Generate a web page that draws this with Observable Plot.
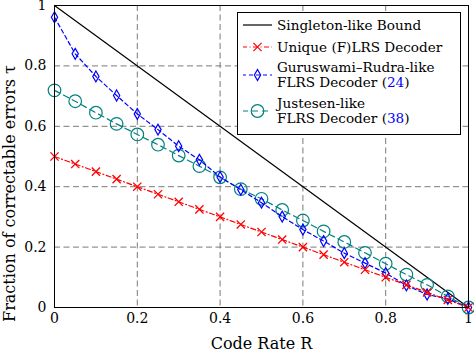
<!DOCTYPE html>
<html>
<head>
<meta charset="utf-8">
<script src="https://cdn.jsdelivr.net/npm/d3@7"></script>
<script src="https://cdn.jsdelivr.net/npm/@observablehq/plot@0.6"></script>
<style>
  html, body { margin: 0; padding: 0; background: #fff; }
  #wrap { position: relative; width: 474px; height: 350px; overflow: hidden; }
  #legend { position: absolute; left: 0; top: 0; pointer-events: none; }
</style>
</head>
<body>
<div id="wrap"></div>
<script>
// ---- data ----
const rates = [0, 0.05, 0.1, 0.15, 0.2, 0.25, 0.3, 0.35, 0.4, 0.45, 0.5, 0.55, 0.6, 0.65, 0.7, 0.75, 0.8, 0.85, 0.9, 0.95, 1];
const singletonRates = [0, 1];
const singletonTau = [1, 0];
const uniqueTau = [0.5, 0.475, 0.45, 0.425, 0.4, 0.375, 0.35, 0.325, 0.3, 0.275, 0.25, 0.225, 0.2, 0.175, 0.15, 0.125, 0.1, 0.075, 0.05, 0.025, 0];
const grTau = [0.961, 0.84, 0.765, 0.702, 0.641, 0.589, 0.534, 0.489, 0.432, 0.39, 0.347, 0.301, 0.258, 0.22, 0.18, 0.147, 0.114, 0.073, 0.043, 0.029, 0];
const justesenTau = [0.719, 0.683, 0.645, 0.608, 0.573, 0.539, 0.503, 0.468, 0.431, 0.392, 0.36, 0.323, 0.288, 0.252, 0.217, 0.181, 0.145, 0.109, 0.075, 0.037, 0];
const xTicks = [0, 0.2, 0.4, 0.6, 0.8, 1];
const xTickLabels = ["0", "0.2", "0.4", "0.6", "0.8", "1"];
const yTicks = [0, 0.2, 0.4, 0.6, 0.8, 1];
const yTickLabels = ["0", "0.2", "0.4", "0.6", "0.8", "1"];
const gridValues = [0.2, 0.4, 0.6, 0.8];
const xLabel = "Code Rate R";
const yLabel = "Fraction of correctable errors τ";
const legendLines = [
  ["Singleton-like Bound"],
  ["Unique (F)LRS Decoder"],
  ["Guruswami–Rudra-like", "FLRS Decoder (", "24", ")"],
  ["Justesen-like", "FLRS Decoder (", "38", ")"]
];

// ---- tables ----
const single = singletonRates.map((r, i) => ({r, t: singletonTau[i]}));
const uniq = rates.map((r, i) => ({r, t: uniqueTau[i]}));
const gr = rates.map((r, i) => ({r, t: grTau[i]}));
const jus = rates.map((r, i) => ({r, t: justesenTau[i]}));

const RED = "#ff0000", BLUE = "#0000ff", TEAL = "#008080";
const serif = "DejaVu Serif";

const chart = Plot.plot({
  width: 474,
  height: 350,
  marginLeft: 54,
  marginRight: 6,
  marginTop: 5,
  marginBottom: 43,
  style: {fontFamily: serif, fontSize: "14px", color: "#000", background: "#fff"},
  x: {domain: [0, 1], ticks: xTicks, tickFormat: d => xTickLabels[xTicks.indexOf(d)], tickSize: 0, tickPadding: 6, label: null},
  y: {domain: [0, 1], ticks: yTicks, tickFormat: d => yTickLabels[yTicks.indexOf(d)], tickSize: 0, tickPadding: 8, label: null},
  marks: [
    Plot.ruleX(gridValues, {stroke: "#7a7a7a", strokeWidth: 1, strokeDasharray: "6,3.5"}),
    Plot.ruleY(gridValues, {stroke: "#7a7a7a", strokeWidth: 1, strokeDasharray: "6,3.5"}),
    Plot.line(single, {x: "r", y: "t", stroke: "#000", strokeWidth: 1.2}),
    Plot.line(jus, {x: "r", y: "t", stroke: TEAL, strokeWidth: 1.2, strokeDasharray: "6,4"}),
    Plot.dot(jus, {x: "r", y: "t", r: 6.3, stroke: TEAL, strokeWidth: 1.2, fill: "none"}),
    Plot.line(gr, {x: "r", y: "t", stroke: BLUE, strokeWidth: 1.2, strokeDasharray: "4,3"}),
    Plot.dot(gr, {x: "r", y: "t", r: 3.3, symbol: "diamond", stroke: BLUE, strokeWidth: 1.2, fill: "none"}),
    Plot.line(uniq, {x: "r", y: "t", stroke: RED, strokeWidth: 1.2, strokeDasharray: "5,2.5,1,2.5"}),
    Plot.dot(uniq, {x: "r", y: "t", r: 3.8, symbol: "times", stroke: RED, strokeWidth: 1.3}),
    Plot.frame({stroke: "#000", strokeWidth: 1}),
    Plot.text([xLabel], {frameAnchor: "bottom", textAnchor: "middle", lineAnchor: "top", dy: 30, fontSize: 16, fill: "#000"}),
    Plot.text([yLabel], {frameAnchor: "left", textAnchor: "middle", lineAnchor: "middle", dx: -45, dy: 37, rotate: -90, fontSize: 16, fill: "#000"})
  ]
});

const wrap = document.getElementById("wrap");
wrap.appendChild(chart);

// ---- legend overlay ----
const svg = d3.select(wrap).append("svg")
  .attr("id", "legend").attr("width", 474).attr("height", 350)
  .style("font-family", serif).style("font-size", "13.6px");
const lx = 237, ly = 12, lw = 223, lh = 122;
svg.append("rect").attr("x", lx + 0.5).attr("y", ly + 0.5).attr("width", lw).attr("height", lh)
  .attr("fill", "#fff").attr("stroke", "#000").attr("stroke-width", 1);

const sym = (type, r) => d3.symbol(type, r * r * Math.PI)();
const entries = [
  {cy: 25, color: "#000", dash: null, marker: null, lines: [30]},
  {cy: 47, color: RED, dash: "5,2.5,1,2.5", marker: {type: d3.symbolTimes, r: 3.8}, lines: [52]},
  {cy: 75, color: BLUE, dash: "4,3", marker: {type: d3.symbolDiamond, r: 3.3}, lines: [72, 87]},
  {cy: 111, color: TEAL, dash: "6,4", marker: {type: d3.symbolCircle, r: 6.3}, lines: [108, 123]}
];
entries.forEach((e, i) => {
  const ln = svg.append("line").attr("x1", 243).attr("x2", 272).attr("y1", e.cy).attr("y2", e.cy)
    .attr("stroke", e.color).attr("stroke-width", 1.2);
  if (e.dash) ln.attr("stroke-dasharray", e.dash).attr("stroke-dashoffset", 1);
  if (e.marker) {
    svg.append("path").attr("d", sym(e.marker.type, e.marker.r))
      .attr("transform", `translate(257.5,${e.cy})`)
      .attr("fill", "none").attr("stroke", e.color).attr("stroke-width", 1.2);
  }
  const parts = legendLines[i];
  svg.append("text").attr("x", 277).attr("y", e.lines[0]).attr("fill", "#000").text(parts[0]);
  if (parts.length > 1) {
    const t2 = svg.append("text").attr("x", 277).attr("y", e.lines[1]).attr("fill", "#000");
    t2.append("tspan").text(parts[1]);
    t2.append("tspan").attr("fill", BLUE).text(parts[2]);
    t2.append("tspan").text(parts[3]);
  }
});
</script>
</body>
</html>
